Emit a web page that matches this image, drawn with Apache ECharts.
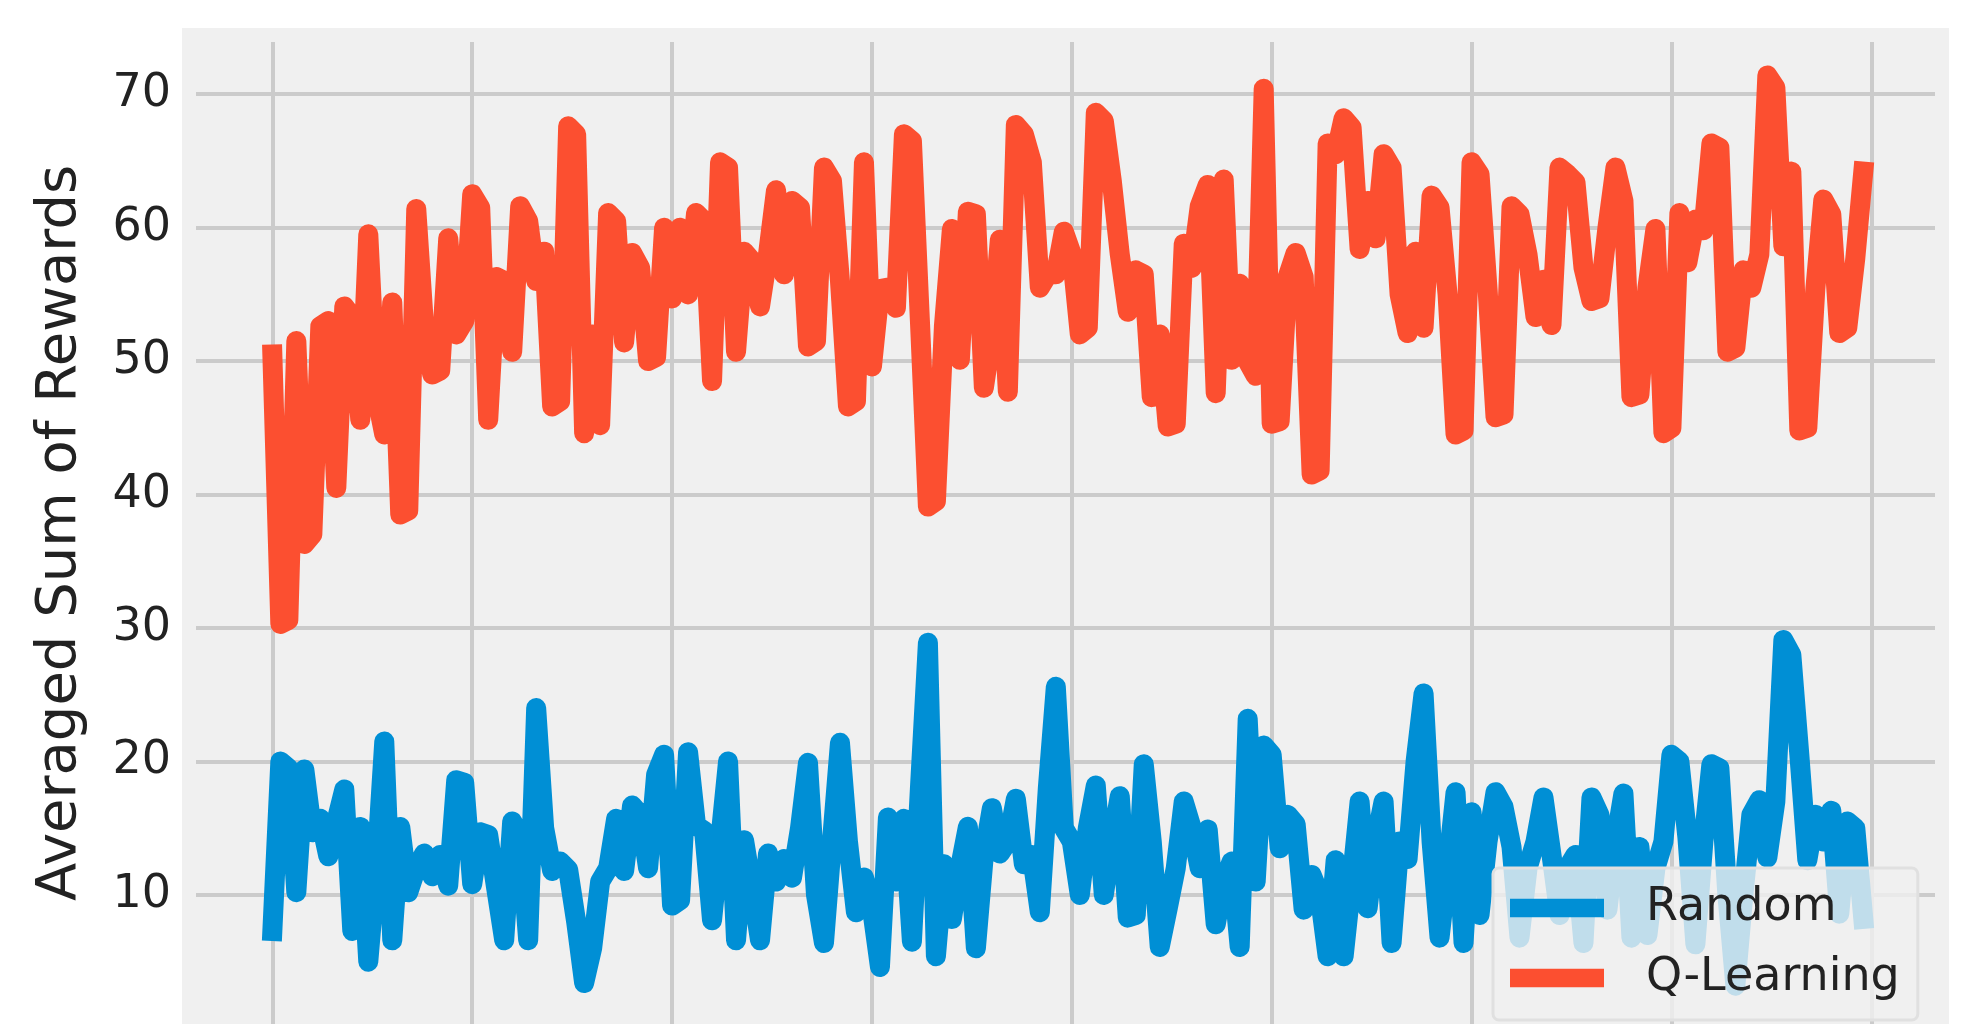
<!DOCTYPE html>
<html>
<head>
<meta charset="utf-8">
<title>Averaged Sum of Rewards</title>
<script src="https://cdn.jsdelivr.net/npm/echarts@6.0.0/dist/echarts.min.js"></script>
<style>
  html, body { margin: 0; padding: 0; background: #ffffff; }
  #chart { width: 1972px; height: 1024px; }
</style>
</head>
<body>
<div id="chart"></div>
<script>
// episode rewards, one value per episode (0..199)
var randomRewards = [
  7.3, 20.0, 19.5, 10.2, 19.4, 14.7, 15.7, 12.9, 15.5, 17.9,
  7.3, 15.1, 5.0, 12, 21.5, 6.6, 15.1, 10.2, 12, 13.1,
  11.4, 13, 10.7, 18.6, 18.4, 10.8, 14.7, 14.5, 10.5, 6.6,
  15.5, 14.5, 6.6, 24.0, 15, 11.8, 12.5, 11.9, 8, 3.4,
  6, 11.0, 12, 15.7, 11.8, 16.7, 16, 12.0, 19, 20.5,
  9.2, 9.6, 20.7, 15.2, 14.8, 8.1, 14, 20.0, 6.6, 14.1,
  10.5, 6.6, 13.1, 11.0, 12.7, 11.3, 15, 19.9, 10, 6.4,
  14, 21.4, 14, 8.7, 11.3, 9, 4.6, 15.8, 11, 15.7,
  6.5, 18, 28.9, 5.4, 12.3, 8.2, 12, 15.1, 6.0, 13,
  16.5, 13.1, 14, 17.2, 12.3, 13, 8.7, 18, 25.6, 15,
  14, 10.0, 15, 18.2, 10.0, 14, 17.4, 8.3, 8.5, 19.8,
  14, 6.1, 9, 12, 17.0, 15, 12.0, 14.9, 7.8, 11,
  12.5, 6.1, 23.2, 11.0, 21.2, 20.5, 13.5, 16.0, 15.3, 8.9,
  11.5, 10, 5.4, 12.6, 5.4, 11, 17.0, 9.0, 14, 17.0,
  6.4, 14.0, 12.7, 20, 25.1, 14, 6.8, 12, 17.7, 6.4,
  16.2, 8.5, 14, 17.7, 16.6, 13.6, 6.8, 12, 14, 17.3,
  13, 8.5, 12, 13, 6.4, 17.3, 16.0, 8.9, 14, 17.6,
  6.8, 13.6, 7, 12, 14, 20.5, 20, 14.3, 6.3, 14,
  19.8, 19.5, 10, 3.2, 10, 16.0, 17.1, 12.8, 17, 29.1,
  28, 20.5, 12.6, 16, 14, 16.3, 8.6, 15.5, 15.0, 8.2
];
var qLearningRewards = [
  50.5, 30.3, 30.6, 51.5, 36.3, 37.0, 52.6, 53.0, 40.5, 54.1,
  53.3, 45.6, 59.5, 47.5, 44.5, 54.4, 38.5, 38.8, 61.4, 52.4,
  49.0, 49.3, 59.2, 52.0, 53.0, 62.5, 61.5, 45.6, 56.3, 56.0,
  50.7, 61.6, 60.5, 56.0, 58.2, 46.6, 47.0, 67.6, 67.0, 44.6,
  52.0, 45.2, 61.1, 60.5, 51.4, 58.1, 57.0, 50.0, 50.3, 60.0,
  54.7, 60.0, 55.0, 61.1, 60.5, 48.5, 64.9, 64.5, 50.7, 58.2,
  57.5, 54.1, 58, 62.8, 56.5, 62.0, 61.5, 51.1, 51.5, 64.5,
  63.5, 56, 46.6, 47, 64.9, 49.6, 55.4, 55.5, 54, 67.0,
  66.5, 53, 39.1, 39.5, 52.6, 59.9, 50.1, 61.2, 61.0, 48.0,
  52, 59.1, 47.7, 67.7, 67.0, 64.9, 55.5, 56.5, 56.5, 59.7,
  58, 52.0, 52.5, 68.6, 68.0, 63.5, 58, 53.7, 56.8, 56.5,
  47.3, 52.0, 45.1, 45.3, 58.8, 57.0, 61.6, 63.2, 47.6, 63.6,
  50.1, 55.8, 50, 48.9, 70.4, 45.3, 45.5, 56.3, 58.1, 56.3,
  41.5, 41.8, 66.3, 65.5, 68.2, 67.5, 58.4, 62.0, 59.2, 65.5,
  64.5, 55, 52.1, 58.2, 52.5, 62.4, 61.5, 55, 44.5, 44.8,
  64.9, 64, 55.4, 45.8, 46, 61.6, 61, 58, 53.3, 56.1,
  52.7, 64.5, 64, 63.4, 57, 54.5, 54.7, 60, 64.5, 62,
  47.3, 47.5, 55.5, 59.9, 44.6, 45, 61.1, 57.4, 60.6, 59.8,
  66.3, 66, 50.7, 51, 56.8, 55.5, 58, 71.4, 70.5, 58.6,
  64.2, 44.8, 45, 55.4, 62.1, 61, 52.1, 52.5, 57.7, 64.2
];
var seriesNames = ['Random', 'Q-Learning'];
var xTicks = [0, 25, 50, 75, 100, 125, 150, 175, 200];
var yTicks = [10, 20, 30, 40, 50, 60, 70];

var chart = echarts.init(document.getElementById('chart'), null, { renderer: 'canvas' });

function toPoints(values) {
  return values.map(function (v, i) { return [i, v]; });
}

var font = 'DejaVu Sans';
var gridColor = '#cbcbcb';

var option = {
  animation: false,
  backgroundColor: '#ffffff',
  graphic: [{
    type: 'rect',
    z: -1,
    silent: true,
    shape: { x: 182, y: 28, width: 1767, height: 1010 },
    style: { fill: '#f0f0f0' }
  }],
  grid: { left: 196, right: 37, top: 42, bottom: -18 },
  xAxis: {
    type: 'value',
    min: -9.55,
    max: 207.97,
    axisLine: { show: false },
    axisTick: { show: false, customValues: xTicks },
    axisLabel: { show: false },
    splitLine: { show: true, lineStyle: { color: gridColor, width: 4 } }
  },
  yAxis: {
    type: 'value',
    min: 0.33,
    max: 73.91,
    name: 'Averaged Sum of Rewards',
    nameLocation: 'middle',
    nameRotate: 90,
    nameGap: 108,
    nameTextStyle: { fontFamily: font, fontSize: 56, color: '#222222' },
    axisLine: { show: false },
    axisTick: { show: false, customValues: yTicks },
    axisLabel: {
      customValues: yTicks,
      fontFamily: font,
      fontSize: 46,
      color: '#222222',
      margin: 25
    },
    splitLine: { show: true, lineStyle: { color: gridColor, width: 4 } }
  },
  legend: {
    data: seriesNames,
    orient: 'vertical',
    left: 1493,
    top: 868,
    icon: 'rect',
    itemWidth: 94,
    itemHeight: 18.5,
    itemGap: 18,
    padding: [14, 18, 16, 17],
    backgroundColor: 'rgba(240,240,240,0.8)',
    borderColor: '#e0e0e0',
    borderWidth: 3,
    borderRadius: 6,
    textStyle: {
      fontFamily: font,
      fontSize: 46,
      lineHeight: 52,
      color: '#222222',
      padding: [0, 0, 0, 37]
    }
  },
  series: [{
    name: seriesNames[0],
    type: 'line',
    data: toPoints(randomRewards),
    showSymbol: false,
    symbol: 'none',
    color: '#008fd5',
    lineStyle: { width: 20, cap: 'square', join: 'round' }
  }, {
    name: seriesNames[1],
    type: 'line',
    data: toPoints(qLearningRewards),
    showSymbol: false,
    symbol: 'none',
    color: '#fc4f30',
    lineStyle: { width: 20, cap: 'square', join: 'round' }
  }]
};

chart.setOption(option);
</script>
</body>
</html>
